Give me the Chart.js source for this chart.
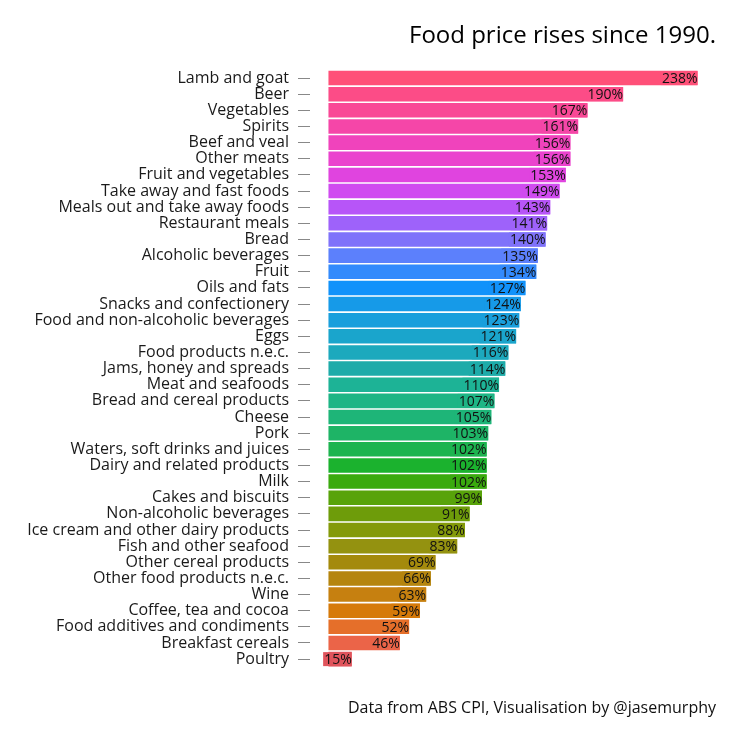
<!DOCTYPE html>
<html>
<head>
<meta charset="utf-8">
<script src="https://cdn.jsdelivr.net/npm/chart.js@4/dist/chart.umd.min.js"></script>
<style>
  html, body { margin: 0; padding: 0; background: #fff; }
  #wrap { width: 740px; height: 740px; }
</style>
</head>
<body>
<div id="wrap"><canvas id="chart"></canvas></div>
<script>
// categories, top to bottom
const categories = [
    'Lamb and goat', 'Beer', 'Vegetables', 'Spirits', 'Beef and veal', 'Other meats',
    'Fruit and vegetables', 'Take away and fast foods', 'Meals out and take away foods',
    'Restaurant meals', 'Bread', 'Alcoholic beverages', 'Fruit', 'Oils and fats',
    'Snacks and confectionery', 'Food and non-alcoholic beverages', 'Eggs',
    'Food products n.e.c.', 'Jams, honey and spreads', 'Meat and seafoods',
    'Bread and cereal products', 'Cheese', 'Pork', 'Waters, soft drinks and juices',
    'Dairy and related products', 'Milk', 'Cakes and biscuits', 'Non-alcoholic beverages',
    'Ice cream and other dairy products', 'Fish and other seafood', 'Other cereal products',
    'Other food products n.e.c.', 'Wine', 'Coffee, tea and cocoa',
    'Food additives and condiments', 'Breakfast cereals', 'Poultry'
];

// price rise since 1990, percent
const rises = [
    238, 190, 167, 161, 156, 156, 153, 149, 143, 141, 140, 135, 134, 127, 124, 123, 121,
    116, 114, 110, 107, 105, 103, 102, 102, 102, 99, 91, 88, 83, 69, 66, 63, 59, 52, 46, 15
];

const barColours = [
    '#FF5078', '#FC4C87', '#F94896', '#F546A8', '#F043BC', '#EA43CE', '#E044DF',
    '#D04BF0', '#B755F8', '#9E62FA', '#7F72FA', '#5C80FC', '#338AFC', '#1192FA',
    '#169AE8', '#199FDC', '#1AA5CC', '#1CA9BD', '#1DABA9', '#1DB396', '#1DB585',
    '#1EB578', '#1EB466', '#1DB44F', '#1BB22E', '#3AAA0E', '#58A30A', '#6E9C0A',
    '#849A0A', '#949210', '#A48A0C', '#B5850F', '#C68010', '#D67A0A', '#E56F2A',
    '#EB6448', '#E0545C'
];

const font = '"Open Sans"';

// value labels at the end of each bar
const valueLabels = {
    id: 'valueLabels',
    afterDatasetsDraw(chart) {
        const ctx = chart.ctx;
        const meta = chart.getDatasetMeta(0);
        ctx.save();
        ctx.font = '14px ' + font;
        ctx.textAlign = 'right';
        ctx.textBaseline = 'middle';
        meta.data.forEach(function(bar, i) {
            const txt = rises[i] + '%';
            const w = ctx.measureText(txt).width;
            ctx.fillStyle = barColours[i];
            ctx.fillRect(bar.x - w - 1, bar.y - 7, w + 1, 14);
            ctx.fillStyle = '#111';
            ctx.fillText(txt, bar.x, bar.y + 1);
        });
        ctx.restore();
    }
};

const ctx = document.getElementById('chart').getContext('2d');
new Chart(ctx, {
    type: 'bar',
    data: {
        labels: categories,
        datasets: [{
            data: rises,
            backgroundColor: barColours,
            categoryPercentage: 0.9,
            barPercentage: 1.0
        }]
    },
    plugins: [valueLabels],
    options: {
        indexAxis: 'y',
        responsive: true,
        maintainAspectRatio: false,
        animation: false,
        layout: { padding: { left: 0, right: 24, top: 0, bottom: 0 } },
        plugins: {
            legend: { display: false },
            tooltip: { enabled: false },
            title: {
                display: true,
                text: 'Food price rises since 1990.',
                align: 'end',
                color: '#000',
                font: { family: font, size: 24, weight: 'normal' },
                padding: { top: 22, bottom: 19.2 }
            },
            subtitle: {
                display: true,
                position: 'bottom',
                text: 'Data from ABS CPI, Visualisation by @jasemurphy',
                align: 'end',
                color: '#111',
                font: { family: font, size: 16 },
                padding: { top: 31.2, bottom: 22.4 }
            }
        },
        scales: {
            x: {
                display: false,
                min: -11.9,
                max: 249.9
            },
            y: {
                afterFit(scale) { scale.width = 310; },
                border: { display: false },
                grid: {
                    offset: false,
                    drawOnChartArea: false,
                    drawTicks: true,
                    tickLength: 12,
                    color: '#888'
                },
                ticks: {
                    autoSkip: false,
                    padding: 9,
                    color: '#1a1a1a',
                    font: { family: font, size: 16 }
                }
            }
        }
    }
});
</script>
</body>
</html>
